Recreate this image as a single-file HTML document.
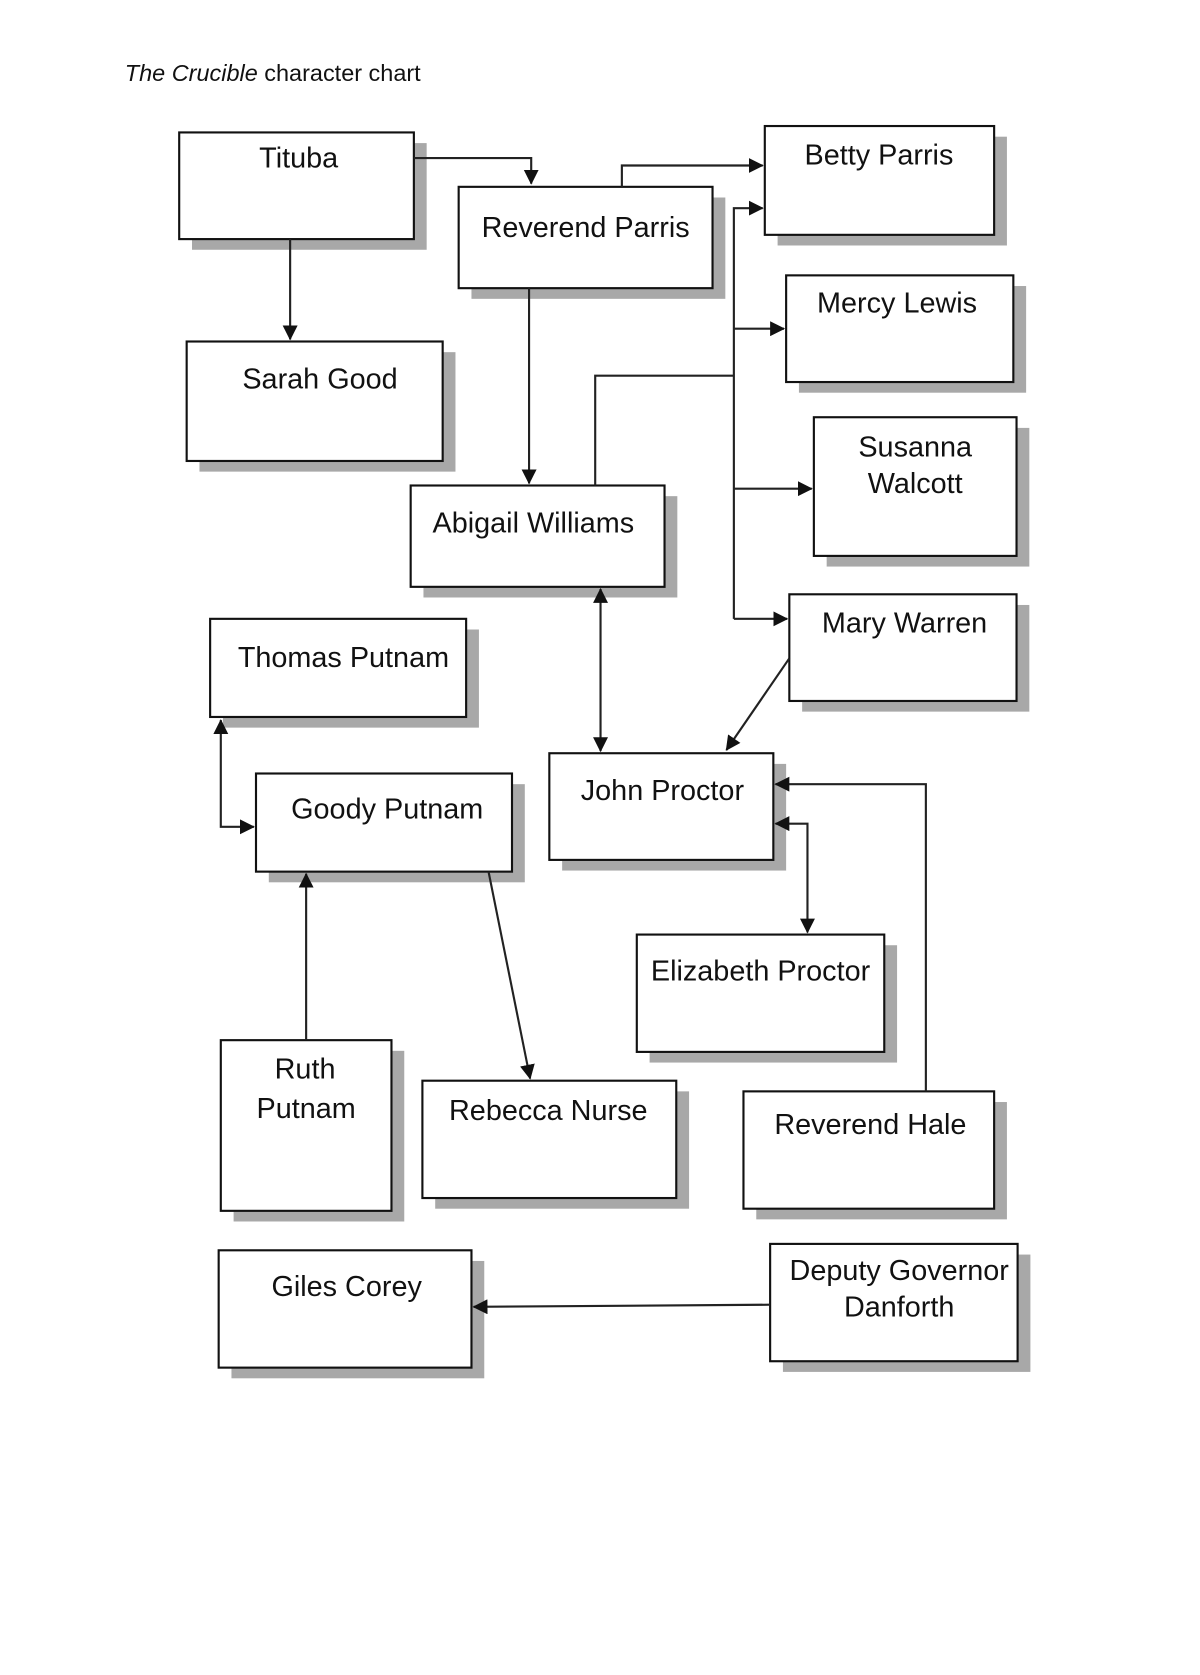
<!DOCTYPE html>
<html><head><meta charset="utf-8"><style>
html,body{margin:0;padding:0;background:#fff;}
svg{display:block}
text{font-family:"Liberation Sans",sans-serif;fill:#111}
</style></head><body>
<svg width="1200" height="1675" viewBox="0 0 1125 1570" xmlns="http://www.w3.org/2000/svg">
<defs>
<marker id="b" markerWidth="14" markerHeight="14" refX="13" refY="7" orient="auto-start-reverse" markerUnits="userSpaceOnUse" viewBox="0 0 14 14"><path d="M0,0 L14,7 L0,14 z" fill="#111"/></marker>
</defs>
<text x="117" y="76" font-size="22"><tspan font-style="italic">The Crucible</tspan>  character chart</text>
<g font-size="27" text-anchor="middle">
<g id="boxes">
<rect x="180" y="134" width="220" height="100" fill="#a8a8a8"/><rect x="168" y="124" width="220" height="100" fill="#fff" stroke="#111" stroke-width="2"/>
<rect x="442" y="185" width="238" height="95" fill="#a8a8a8"/><rect x="430" y="175" width="238" height="95" fill="#fff" stroke="#111" stroke-width="2"/>
<rect x="729" y="128" width="215" height="102" fill="#a8a8a8"/><rect x="717" y="118" width="215" height="102" fill="#fff" stroke="#111" stroke-width="2"/>
<rect x="749" y="268" width="213" height="100" fill="#a8a8a8"/><rect x="737" y="258" width="213" height="100" fill="#fff" stroke="#111" stroke-width="2"/>
<rect x="187" y="330" width="240" height="112" fill="#a8a8a8"/><rect x="175" y="320" width="240" height="112" fill="#fff" stroke="#111" stroke-width="2"/>
<rect x="775" y="401" width="190" height="130" fill="#a8a8a8"/><rect x="763" y="391" width="190" height="130" fill="#fff" stroke="#111" stroke-width="2"/>
<rect x="397" y="465" width="238" height="95" fill="#a8a8a8"/><rect x="385" y="455" width="238" height="95" fill="#fff" stroke="#111" stroke-width="2"/>
<rect x="209" y="590" width="240" height="92" fill="#a8a8a8"/><rect x="197" y="580" width="240" height="92" fill="#fff" stroke="#111" stroke-width="2"/>
<rect x="752" y="567" width="213" height="100" fill="#a8a8a8"/><rect x="740" y="557" width="213" height="100" fill="#fff" stroke="#111" stroke-width="2"/>
<rect x="252" y="735" width="240" height="92" fill="#a8a8a8"/><rect x="240" y="725" width="240" height="92" fill="#fff" stroke="#111" stroke-width="2"/>
<rect x="527" y="716" width="210" height="100" fill="#a8a8a8"/><rect x="515" y="706" width="210" height="100" fill="#fff" stroke="#111" stroke-width="2"/>
<rect x="609" y="886" width="232" height="110" fill="#a8a8a8"/><rect x="597" y="876" width="232" height="110" fill="#fff" stroke="#111" stroke-width="2"/>
<rect x="219" y="985" width="160" height="160" fill="#a8a8a8"/><rect x="207" y="975" width="160" height="160" fill="#fff" stroke="#111" stroke-width="2"/>
<rect x="408" y="1023" width="238" height="110" fill="#a8a8a8"/><rect x="396" y="1013" width="238" height="110" fill="#fff" stroke="#111" stroke-width="2"/>
<rect x="709" y="1033" width="235" height="110" fill="#a8a8a8"/><rect x="697" y="1023" width="235" height="110" fill="#fff" stroke="#111" stroke-width="2"/>
<rect x="217" y="1182" width="237" height="110" fill="#a8a8a8"/><rect x="205" y="1172" width="237" height="110" fill="#fff" stroke="#111" stroke-width="2"/>
<rect x="734" y="1176" width="232" height="110" fill="#a8a8a8"/><rect x="722" y="1166" width="232" height="110" fill="#fff" stroke="#111" stroke-width="2"/>
</g>
<text x="280" y="157">Tituba</text>
<text x="549" y="222">Reverend Parris</text>
<text x="824" y="154">Betty Parris</text>
<text x="841" y="293">Mercy Lewis</text>
<text x="300" y="364">Sarah Good</text>
<text x="858" y="428">Susanna</text>
<text x="858" y="462">Walcott</text>
<text x="500" y="499">Abigail Williams</text>
<text x="322" y="625">Thomas Putnam</text>
<text x="848" y="593">Mary Warren</text>
<text x="363" y="767">Goody Putnam</text>
<text x="621" y="750">John Proctor</text>
<text x="713" y="919">Elizabeth Proctor</text>
<text x="286" y="1011">Ruth</text>
<text x="287" y="1048">Putnam</text>
<text x="514" y="1050">Rebecca Nurse</text>
<text x="816" y="1063">Reverend Hale</text>
<text x="325" y="1215">Giles Corey</text>
<text x="843" y="1200">Deputy Governor</text>
<text x="843" y="1234">Danforth</text>
</g>
<g stroke="#222" stroke-width="2" fill="none">
<path d="M388,148 H498 V172" marker-end="url(#b)"/>
<path d="M272,224 V318" marker-end="url(#b)"/>
<path d="M583,175 V155 H715" marker-end="url(#b)"/>
<path d="M688,580 V195 H715" marker-end="url(#b)"/>
<path d="M688,308 H735" marker-end="url(#b)"/>
<path d="M688,458 H761" marker-end="url(#b)"/>
<path d="M688,580 H738" marker-end="url(#b)"/>
<path d="M558,455 V352 H688"/>
<path d="M496,270 V453" marker-end="url(#b)"/>
<path d="M563,552 V704" marker-start="url(#b)" marker-end="url(#b)"/>
<path d="M740,617 L681,703" marker-end="url(#b)"/>
<path d="M207,675 V775 H238" marker-start="url(#b)" marker-end="url(#b)"/>
<path d="M458,817 L497,1011" marker-end="url(#b)"/>
<path d="M287,975 V819" marker-end="url(#b)"/>
<path d="M727,772 H757 V874" marker-start="url(#b)" marker-end="url(#b)"/>
<path d="M868,1023 V735 H727" marker-end="url(#b)"/>
<path d="M722,1223 L444,1225" marker-end="url(#b)"/>
</g>
</svg>
</body></html>
